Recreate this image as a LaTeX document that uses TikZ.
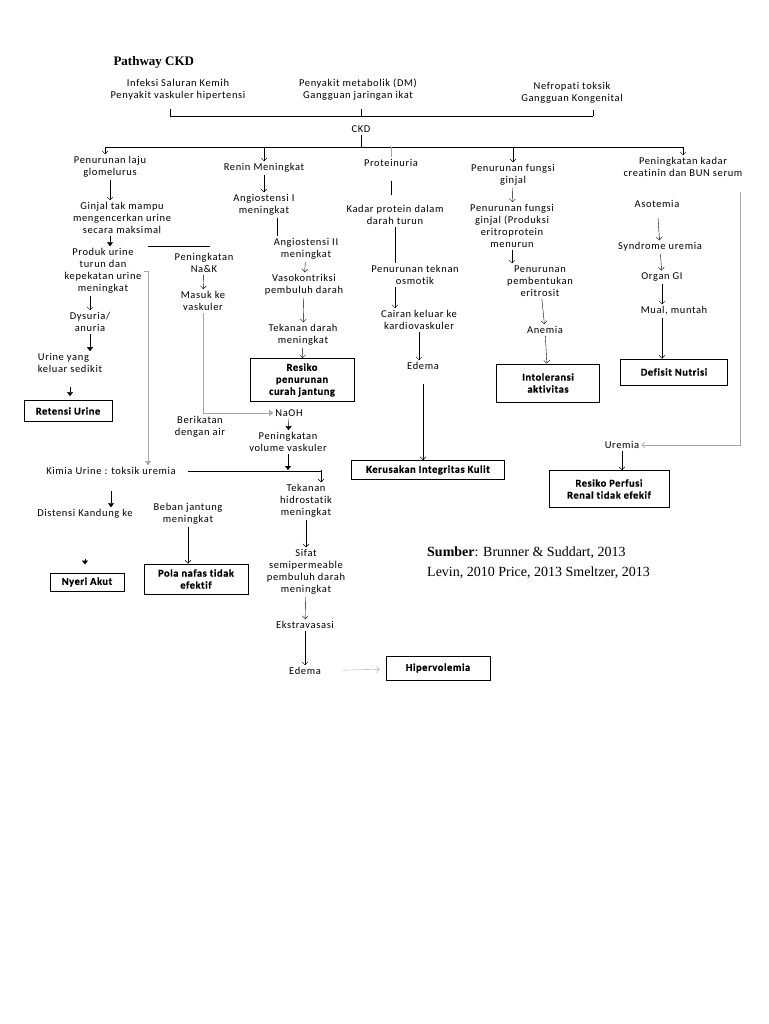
\documentclass[tikz,border=0pt]{standalone}
\usepackage{fontspec}
\setmainfont{Carlito}[LetterSpace=6, Ligatures={NoCommon}]
\newfontfamily\tebal{Carlito}[LetterSpace=5, Ligatures={NoCommon}, UprightFont={* Bold}, FakeBold=0.6]
\newfontfamily\serifschrift{Liberation Serif}
\usepackage{tikz}
\usetikzlibrary{arrows.meta}

\begin{document}
\begin{tikzpicture}[x=1pt, y=-1pt, >={Straight Barb[length=3pt,width=6pt]},
    teks/.style={align=center, inner sep=2pt, font=\fontsize{10.5}{12}\selectfont},
    kotak/.style={draw, line width=0.9pt, align=center, inner sep=2pt, font=\tebal\fontsize{10.5}{12}\selectfont},
    tri/.style={-{Triangle[length=4pt,width=6pt]}},
    garis/.style={gray!70}]

    \useasboundingbox (0,0) rectangle (768,1024);

    % Judul
    \node (judul) at (110,62) [anchor=west, font=\serifschrift\bfseries\fontsize{13}{15}\selectfont] {Pathway CKD};

    % Penyebab
    \node (infeksi) at (178,90) [teks] {Infeksi Saluran Kemih\\Penyakit vaskuler hipertensi};
    \node (metabolik) at (358,90) [teks] {Penyakit metabolik (DM)\\Gangguan jaringan ikat};
    \node (nefro) at (572,93) [teks] {Nefropati toksik\\Gangguan Kongenital};
    \node (ckd) at (361,129) [teks] {CKD};
    \coordinate (kl) at (170,116);
    \coordinate (kr) at (593,116);
    \draw (kl) -- (kr);
    \draw (kl) -- ++(0,-7);
    \draw (kr) -- ++(0,-6);
    \draw (kl -| ckd) -- ++(0,-7);

    % Cabang CKD
    \coordinate (hl) at (105,147);
    \coordinate (hr) at (683,147);
    \node (glom) at (110,167) [teks] {Penurunan laju\\glomelurus};
    \node (renin) at (264,168) [teks] {Renin Meningkat};
    \node (prot) at (391,163) [teks] {Proteinuria};
    \node (fungsi) at (513,175) [teks] {Penurunan fungsi\\ginjal};
    \node (kadar) at (683,167) [teks] {Peningkatan kadar\\creatinin dan BUN serum};
    \draw (hl) -- (hr);
    \draw (ckd) -- (ckd |- hl);
    \draw[->] (hl) -- (hl |- glom.north);
    \draw[->] (renin |- hl) -- (renin);
    \draw[garis] (prot |- hl) -- (prot);
    \draw[->] (fungsi |- hl) -- (fungsi);
    \draw[->] (hr) -- (kadar);

    % Kolom 1
    \node (ginjal) at (122,218) [teks] {Ginjal tak mampu\\mengencerkan urine\\secara maksimal};
    \node (produk) at (103,271) [teks] {Produk urine\\turun dan\\kepekatan urine\\meningkat};
    \node (dys) at (90,322) [teks] {Dysuria/\\anuria};
    \node (urine) at (70,363) [teks, align=left] {Urine yang\\keluar sedikit};
    \node (retensi) at (68,411) [kotak, minimum width=88, minimum height=21] {Retensi Urine};
    \draw[->] (glom) -- (glom |- ginjal.north);
    \draw[tri] (ginjal.south -| glom) -- (produk.north -| glom);
    \draw[->] (produk.south -| dys) -- (dys);
    \draw[tri] (dys) -- (dys |- urine.north);
    \draw[tri, shorten <=12pt, shorten >=4pt] (urine) -- (urine |- retensi.north);

    % Na dan K
    \node (natk) at (204,263) [teks] {Peningkatan\\Na\&K};
    \node (masuk) at (203,301) [teks] {Masuk ke\\vaskuler};
    \node (berik) at (200,427) [teks] {Berikatan\\dengan air};
    \node (naoh) at (289,413) [teks] {NaOH};
    \coordinate (na1) at (148,246);
    \coordinate (na2) at (210,246);
    \draw (na1) -- (na2);
    \draw[->] (natk) -- (masuk);
    \draw[garis, tri] (masuk) |- (naoh);

    % Kolom 2
    \node (ang1) at (264,205) [teks] {Angiostensi I\\meningkat};
    \node (ang2) at (306,249) [teks] {Angiostensi II\\meningkat};
    \node (vaso) at (304,285) [teks] {Vasokontriksi\\pembuluh darah};
    \node (tekd) at (303,335) [teks] {Tekanan darah\\meningkat};
    \node (resiko) at (302,380) [kotak, minimum width=104, minimum height=43] {Resiko\\penurunan\\curah jantung};
    \node (vol) at (288,442) [teks] {Peningkatan\\volume vaskuler};
    \draw[->] (renin) -- (ang1);
    \draw ([xshift=13pt]ang1.south) -- ([xshift=13pt]ang1.south |- ang2.north);
    \draw[->] (ang2) -- (vaso);
    \draw[->] (vaso) -- (tekd);
    \draw[->] (tekd) -- (resiko);
    \draw[tri] (naoh) -- (vol);

    % Kimia urine
    \node (kimia) at (111,471) [teks] {Kimia Urine : toksik uremia};
    \node (hidro) at (306,501) [teks] {Tekanan\\hidrostatik\\meningkat};
    \node (sifat) at (306,572) [teks] {Sifat\\semipermeable\\pembuluh darah\\meningkat};
    \node (ekstra) at (305,625) [teks] {Ekstravasasi};
    \node (edema2) at (305,671) [teks] {Edema};
    \node (hiper) at (438,668) [kotak, minimum width=104, minimum height=24] {Hipervolemia};
    \coordinate (vk) at (321,470);
    \draw[garis, tri] (produk.east) -| (kimia.north -| na1);
    \draw[shorten <=10pt] (kimia) -- (kimia -| vk);
    \draw[tri] (vol) -- (vol |- vk);
    \draw[->] (vk) -- (vk |- hidro.north);
    \draw[->] (hidro) -- (sifat);
    \draw[->] (sifat) -- (ekstra);
    \draw[->] (ekstra) -- (edema2);
    \draw[->, garis, shorten <=20pt, shorten >=6pt] (edema2) -- (hiper);

    % Kiri bawah
    \node (dist) at (85,514) [teks] {Distensi Kandung ke};
    \node (nyeri) at (87,582) [kotak, minimum width=74, minimum height=18] {Nyeri Akut};
    \node (beban) at (188,514) [teks] {Beban jantung\\meningkat};
    \node (pola) at (196,579) [kotak, minimum width=104, minimum height=30] {Pola nafas tidak\\efektif};
    \draw[tri, shorten <=14pt] (kimia) -- (kimia |- dist.north);
    \draw[tri, shorten <=38pt, shorten >=8pt] (dist) -- (dist |- nyeri.north);
    \draw[->] (beban) -- (beban |- pola.north);

    % Kolom 3
    \node (kadarp) at (395,215) [teks] {Kadar protein dalam\\darah turun};
    \node (osm) at (415,275) [teks] {Penurunan teknan\\osmotik};
    \node (cairan) at (419,320) [teks] {Cairan keluar ke\\kardiovaskuler};
    \node (edema1) at (423,366) [teks] {Edema};
    \node (kulit) at (428,470) [kotak, minimum width=153, minimum height=19] {Kerusakan Integritas Kulit};
    \draw[shorten <=12pt, shorten >=8pt] (prot) -- (prot |- kadarp.north);
    \draw (kadarp) -- (kadarp |- osm.north);
    \draw[->] (osm.south -| kadarp) -- (cairan.north -| kadarp);
    \draw[->] (cairan) -- (cairan |- edema1.north);
    \draw[->, shorten <=12pt] (edema1) -- (edema1 |- kulit.north);

    % Kolom 4
    \node (fungsi2) at (512,226) [teks] {Penurunan fungsi\\ginjal (Produksi\\eritroprotein\\menurun};
    \node (eritro) at (540,281) [teks] {Penurunan\\pembentukan\\eritrosit};
    \node (anemia) at (545,330) [teks] {Anemia};
    \node (intol) at (548,383) [kotak, minimum width=103, minimum height=38] {Intoleransi\\aktivitas};
    \draw[->] (fungsi) -- (fungsi2);
    \draw[->] (fungsi2) -- (fungsi2 |- eritro.north);
    \draw[->] (eritro) -- (anemia);
    \draw[->] (anemia) -- (intol);

    % Kolom 5
    \node (asot) at (657,204) [teks] {Asotemia};
    \node (synd) at (660,247) [teks] {Syndrome uremia};
    \node (organ) at (662,277) [teks] {Organ GI};
    \node (mual) at (674,311) [teks] {Mual, muntah};
    \node (defisit) at (674,372) [kotak, minimum width=107, minimum height=26] {Defisit Nutrisi};
    \node (uremia) at (622,445) [teks] {Uremia};
    \node (perfusi) at (609,489) [kotak, minimum width=120, minimum height=37] {Resiko Perfusi\\Renal tidak efekif};
    \coordinate (rt) at (740,192);
    \draw[->, shorten <=8pt] (asot) -- (synd);
    \draw[->] (synd) -- (organ);
    \draw[->] (organ) -- (organ |- mual.north);
    \draw[->] (mual.south -| organ) -- (defisit.north -| organ);
    \draw[->, garis] (rt) |- (uremia);
    \draw[->] (uremia) -- (uremia |- perfusi.north);

    % Sumber
    \node (sumber) at (427,563) [anchor=west, align=left, inner sep=0pt, font=\serifschrift\fontsize{14}{20}\selectfont] {\textbf{Sumber}: Brunner \& Suddart, 2013\\Levin, 2010 Price, 2013 Smeltzer, 2013};

\end{tikzpicture}
\end{document}
